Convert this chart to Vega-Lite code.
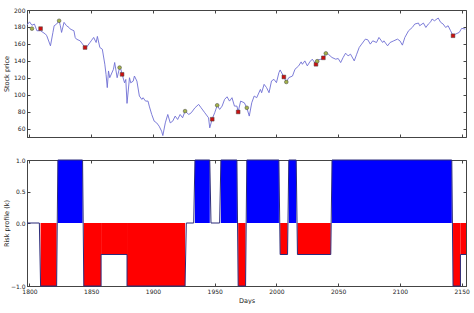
{
  "$schema": "https://vega.github.io/schema/vega-lite/v6.json",
  "padding": {"left": 2, "top": 6, "right": 8, "bottom": 0},
  "background": "white",
  "spacing": 18,
  "config": {
    "view": {"stroke": "#444", "strokeWidth": 1},
    "axis": {
      "grid": false,
      "domainColor": "#444",
      "tickColor": "#444",
      "labelColor": "#222",
      "titleColor": "#222",
      "labelFont": "DejaVu Sans",
      "titleFont": "DejaVu Sans",
      "labelFontSize": 6,
      "titleFontSize": 6.5,
      "titleFontWeight": "normal",
      "tickSize": -3,
      "labelPadding": 5
    }
  },
  "datasets": {
    "price": [
      {"day": 1798, "price": 182.2}, {"day": 1800, "price": 186}, {"day": 1802, "price": 182},
      {"day": 1804, "price": 183.4}, {"day": 1806, "price": 175.5}, {"day": 1809, "price": 175.5},
      {"day": 1811, "price": 173.5}, {"day": 1813, "price": 171.5}, {"day": 1814, "price": 169.6},
      {"day": 1817, "price": 157.7}, {"day": 1819, "price": 173.5}, {"day": 1820, "price": 181.4},
      {"day": 1822, "price": 183.4}, {"day": 1824, "price": 187.3}, {"day": 1825, "price": 181.4},
      {"day": 1826, "price": 173.5}, {"day": 1828, "price": 185.4}, {"day": 1830, "price": 181.4},
      {"day": 1832, "price": 179.4}, {"day": 1833, "price": 177.5}, {"day": 1836, "price": 175.5},
      {"day": 1837, "price": 167.6}, {"day": 1838, "price": 165.6}, {"day": 1841, "price": 163.6},
      {"day": 1844, "price": 157.7}, {"day": 1845, "price": 155.7}, {"day": 1846, "price": 155.7},
      {"day": 1849, "price": 161.6}, {"day": 1850, "price": 163.6}, {"day": 1852, "price": 167.6},
      {"day": 1854, "price": 161.6}, {"day": 1855, "price": 168.8}, {"day": 1857, "price": 155.7},
      {"day": 1859, "price": 153.7}, {"day": 1861, "price": 136}, {"day": 1862, "price": 124},
      {"day": 1863, "price": 108.3}, {"day": 1864, "price": 128}, {"day": 1865, "price": 120},
      {"day": 1868, "price": 130}, {"day": 1869, "price": 138}, {"day": 1871, "price": 120},
      {"day": 1873, "price": 132}, {"day": 1874, "price": 130}, {"day": 1875, "price": 124},
      {"day": 1877, "price": 114}, {"day": 1878, "price": 118}, {"day": 1879, "price": 89.7},
      {"day": 1881, "price": 120}, {"day": 1882, "price": 114}, {"day": 1884, "price": 116},
      {"day": 1885, "price": 122}, {"day": 1887, "price": 116}, {"day": 1889, "price": 98.4},
      {"day": 1891, "price": 94.4}, {"day": 1892, "price": 96.4}, {"day": 1894, "price": 92.4},
      {"day": 1896, "price": 92.4}, {"day": 1897, "price": 86.5}, {"day": 1899, "price": 76.6},
      {"day": 1901, "price": 68.7}, {"day": 1903, "price": 66.7}, {"day": 1905, "price": 62.8},
      {"day": 1907, "price": 56.9}, {"day": 1908, "price": 51.7}, {"day": 1910, "price": 66.7},
      {"day": 1912, "price": 76.6}, {"day": 1914, "price": 66.7}, {"day": 1916, "price": 68.7},
      {"day": 1918, "price": 74.7}, {"day": 1920, "price": 70.7}, {"day": 1922, "price": 76.6},
      {"day": 1924, "price": 72.7}, {"day": 1926, "price": 80.6}, {"day": 1929, "price": 76.6},
      {"day": 1931, "price": 78.6}, {"day": 1934, "price": 84.5}, {"day": 1937, "price": 88.5},
      {"day": 1939, "price": 84.5}, {"day": 1942, "price": 78.6}, {"day": 1945, "price": 72.7},
      {"day": 1946, "price": 60.8}, {"day": 1948, "price": 71.5}, {"day": 1950, "price": 78.6},
      {"day": 1952, "price": 87.3}, {"day": 1954, "price": 82.6}, {"day": 1956, "price": 86.5},
      {"day": 1958, "price": 94.4}, {"day": 1960, "price": 97.5}, {"day": 1962, "price": 92.4},
      {"day": 1964, "price": 96.4}, {"day": 1966, "price": 86.5}, {"day": 1968, "price": 86.5},
      {"day": 1969, "price": 79.6}, {"day": 1971, "price": 92.4}, {"day": 1974, "price": 90.4},
      {"day": 1976, "price": 84.5}, {"day": 1978, "price": 74.7}, {"day": 1980, "price": 90.4},
      {"day": 1982, "price": 98.4}, {"day": 1984, "price": 96.4}, {"day": 1987, "price": 106.2},
      {"day": 1988, "price": 102.3}, {"day": 1990, "price": 112.2}, {"day": 1992, "price": 108.3},
      {"day": 1994, "price": 102.3}, {"day": 1996, "price": 116.2}, {"day": 1998, "price": 118.1},
      {"day": 2000, "price": 114.2}, {"day": 2002, "price": 126}, {"day": 2003, "price": 129.2},
      {"day": 2006, "price": 120.9}, {"day": 2008, "price": 115}, {"day": 2010, "price": 120.1},
      {"day": 2013, "price": 122}, {"day": 2015, "price": 130}, {"day": 2018, "price": 134},
      {"day": 2020, "price": 138.7}, {"day": 2021, "price": 135.9}, {"day": 2023, "price": 139.9},
      {"day": 2025, "price": 134}, {"day": 2027, "price": 138.7}, {"day": 2029, "price": 141.9},
      {"day": 2032, "price": 135.9}, {"day": 2033, "price": 140.7}, {"day": 2036, "price": 141.9},
      {"day": 2038, "price": 142.7}, {"day": 2040, "price": 149}, {"day": 2042, "price": 147.8},
      {"day": 2045, "price": 143.9}, {"day": 2048, "price": 141.9}, {"day": 2050, "price": 142.7},
      {"day": 2052, "price": 137.9}, {"day": 2054, "price": 143.9}, {"day": 2056, "price": 149},
      {"day": 2058, "price": 145.8}, {"day": 2060, "price": 147.8}, {"day": 2063, "price": 139.9},
      {"day": 2065, "price": 147.8}, {"day": 2067, "price": 155.7}, {"day": 2069, "price": 159.7},
      {"day": 2072, "price": 165.6}, {"day": 2074, "price": 164.8}, {"day": 2076, "price": 159.7},
      {"day": 2078, "price": 163.6}, {"day": 2081, "price": 161.6}, {"day": 2083, "price": 167.6},
      {"day": 2086, "price": 161.6}, {"day": 2087, "price": 163.6}, {"day": 2090, "price": 157.7},
      {"day": 2092, "price": 161.6}, {"day": 2095, "price": 163.6}, {"day": 2098, "price": 165.6},
      {"day": 2100, "price": 163.6}, {"day": 2102, "price": 158.5}, {"day": 2104, "price": 167.6},
      {"day": 2107, "price": 175.5}, {"day": 2110, "price": 179.4}, {"day": 2112, "price": 183.4},
      {"day": 2115, "price": 184.6}, {"day": 2116, "price": 181.4}, {"day": 2119, "price": 184.6},
      {"day": 2121, "price": 179.4}, {"day": 2123, "price": 183.4}, {"day": 2125, "price": 186.2},
      {"day": 2126, "price": 189.3}, {"day": 2128, "price": 187.3}, {"day": 2131, "price": 190.5},
      {"day": 2133, "price": 185.4}, {"day": 2135, "price": 183.4}, {"day": 2137, "price": 179.4},
      {"day": 2139, "price": 181.4}, {"day": 2141, "price": 175.5}, {"day": 2143, "price": 169.6},
      {"day": 2145, "price": 171.5}, {"day": 2148, "price": 173.5}, {"day": 2150, "price": 178.3},
      {"day": 2153, "price": 177.5}
    ],
    "signals": [
      {"day": 1802, "price": 178, "signal": "buy"},
      {"day": 1809, "price": 178, "signal": "sell"},
      {"day": 1824, "price": 187.3, "signal": "buy"},
      {"day": 1845, "price": 155.7, "signal": "sell"},
      {"day": 1873, "price": 132, "signal": "buy"},
      {"day": 1875, "price": 124, "signal": "sell"},
      {"day": 1926, "price": 80.6, "signal": "buy"},
      {"day": 1948, "price": 71, "signal": "sell"},
      {"day": 1952, "price": 87.5, "signal": "buy"},
      {"day": 1969, "price": 79.6, "signal": "sell"},
      {"day": 1976, "price": 84.5, "signal": "buy"},
      {"day": 2006, "price": 120.9, "signal": "sell"},
      {"day": 2008, "price": 115, "signal": "buy"},
      {"day": 2032, "price": 135.9, "signal": "sell"},
      {"day": 2033, "price": 139.5, "signal": "buy"},
      {"day": 2038, "price": 143.5, "signal": "sell"},
      {"day": 2040, "price": 148.8, "signal": "buy"},
      {"day": 2143, "price": 169.6, "signal": "sell"}
    ],
    "risk": [
      {"start": 1798, "end": 1808, "k": 0},
      {"start": 1809, "end": 1822, "k": -1},
      {"start": 1823, "end": 1843, "k": 1},
      {"start": 1844, "end": 1858, "k": -1},
      {"start": 1858, "end": 1879, "k": -0.5},
      {"start": 1879, "end": 1926, "k": -1},
      {"start": 1927, "end": 1933, "k": 0},
      {"start": 1934, "end": 1946, "k": 1},
      {"start": 1947, "end": 1954, "k": 0},
      {"start": 1955, "end": 1968, "k": 1},
      {"start": 1969, "end": 1975, "k": -1},
      {"start": 1976, "end": 2002, "k": 1},
      {"start": 2003, "end": 2009, "k": -0.5},
      {"start": 2010, "end": 2016, "k": 1},
      {"start": 2017, "end": 2044, "k": -0.5},
      {"start": 2045, "end": 2142, "k": 1},
      {"start": 2143, "end": 2149, "k": -1},
      {"start": 2149, "end": 2153.5, "k": -0.5}
    ]
  },
  "vconcat": [
    {
      "width": 439,
      "height": 127,
      "resolve": {"axis": {"x": "independent", "y": "independent"}},
      "layer": [
        {
          "data": {"name": "price"},
          "mark": {"type": "line", "color": "#6e6ed4", "strokeWidth": 0.9},
          "encoding": {
            "x": {"field": "day", "type": "quantitative",
                  "scale": {"domain": [1798, 2153.5], "nice": false, "zero": false},
                  "axis": {"values": [1800, 1850, 1900, 1950, 2000, 2050, 2100, 2150], "labels": false, "title": null, "orient": "bottom"}},
            "y": {"field": "price", "type": "quantitative",
                  "scale": {"domain": [50, 200], "nice": false, "zero": false},
                  "axis": {"values": [60, 80, 100, 120, 140, 160, 180, 200], "title": "Stock price", "titlePadding": 3, "minExtent": 15, "maxExtent": 15}}
          }
        },
        {
          "data": {"name": "signals"},
          "mark": {"type": "point", "filled": true, "size": 14, "opacity": 1, "strokeWidth": 0.5, "stroke": "#444"},
          "encoding": {
            "x": {"field": "day", "type": "quantitative",
                  "axis": {"values": [1800, 1850, 1900, 1950, 2000, 2050, 2100, 2150], "labels": false, "title": null, "orient": "top", "domain": false}},
            "y": {"field": "price", "type": "quantitative",
                  "axis": {"values": [60, 80, 100, 120, 140, 160, 180, 200], "labels": false, "title": null, "orient": "right", "domain": false}},
            "shape": {"field": "signal", "type": "nominal", "scale": {"domain": ["buy", "sell"], "range": ["circle", "square"]}, "legend": null},
            "color": {"field": "signal", "type": "nominal", "scale": {"domain": ["buy", "sell"], "range": ["#a3b24a", "#cc1010"]}, "legend": null}
          }
        }
      ]
    },
    {
      "width": 439,
      "height": 126,
      "data": {"name": "risk"},
      "resolve": {"axis": {"x": "independent", "y": "independent"}},
      "layer": [
        {
          "transform": [{"filter": "datum.k != 0"}],
          "mark": {"type": "rect"},
          "encoding": {
            "x": {"field": "start", "type": "quantitative",
                  "scale": {"domain": [1798, 2153.5], "nice": false, "zero": false},
                  "axis": {"values": [1800, 1850, 1900, 1950, 2000, 2050, 2100, 2150], "format": "d", "title": "Days", "titlePadding": 3, "orient": "bottom"}},
            "x2": {"field": "end"},
            "y": {"field": "k", "type": "quantitative",
                  "scale": {"domain": [-1, 1], "nice": false, "zero": false},
                  "axis": {"values": [-1, 0, 0.5, 1], "format": ".1f", "title": "Risk profile (k)", "titlePadding": 3, "minExtent": 15, "maxExtent": 15}},
            "y2": {"datum": 0},
            "color": {"condition": {"test": "datum.k > 0", "value": "#0000ff"}, "value": "#ff0000"}
          }
        },
        {
          "transform": [{"fold": ["start", "end"], "as": ["edge", "day"]}],
          "mark": {"type": "line", "color": "#2b2b7a", "strokeWidth": 1},
          "encoding": {
            "x": {"field": "day", "type": "quantitative",
                  "axis": {"values": [1800, 1850, 1900, 1950, 2000, 2050, 2100, 2150], "labels": false, "title": null, "orient": "top", "domain": false}},
            "y": {"field": "k", "type": "quantitative",
                  "axis": {"values": [-1, 0, 0.5, 1], "labels": false, "title": null, "orient": "right", "domain": false}}
          }
        }
      ]
    }
  ]
}
